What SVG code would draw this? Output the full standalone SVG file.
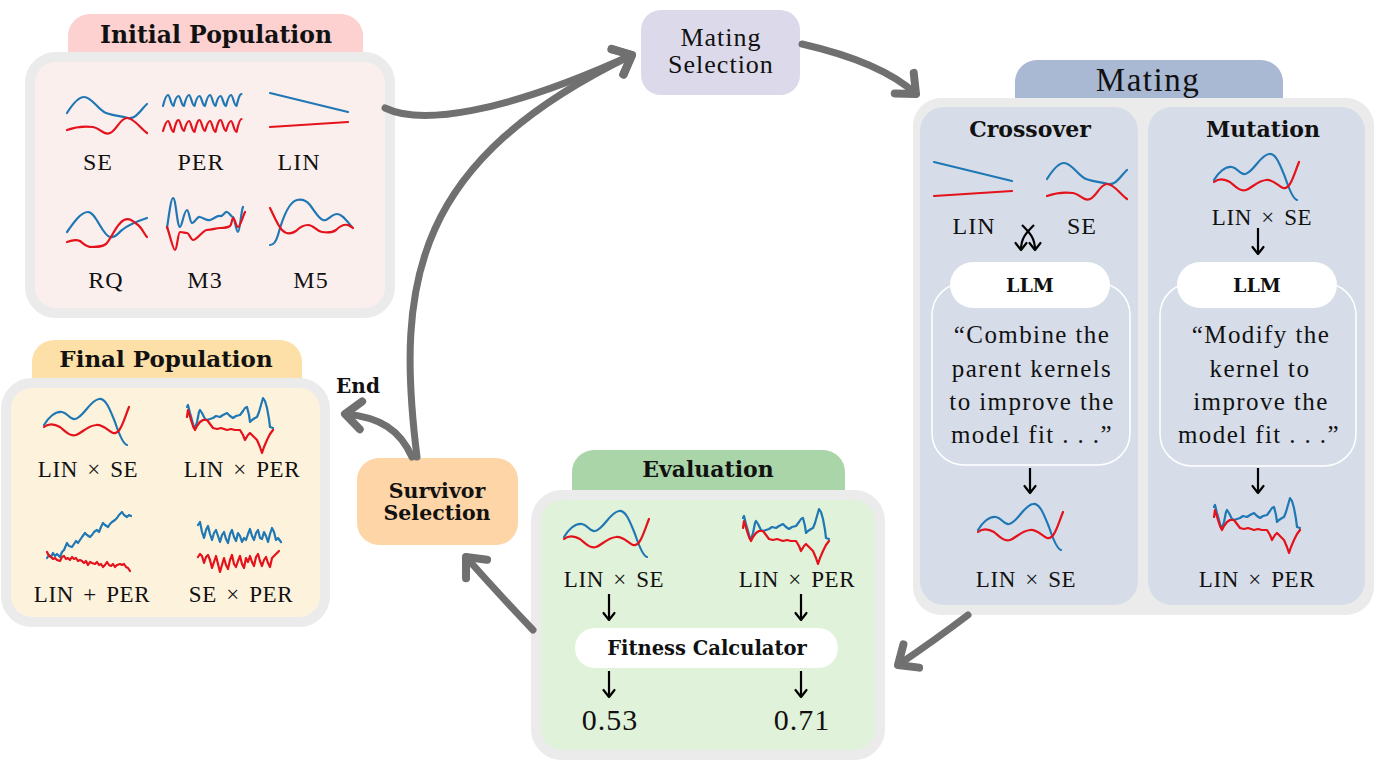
<svg xmlns="http://www.w3.org/2000/svg" xmlns:xlink="http://www.w3.org/1999/xlink" width="1376" height="766" viewBox="0 0 1376 766">
<style>
.bt{font-family:"DejaVu Serif","Liberation Serif",serif;font-weight:bold;text-anchor:middle;fill:#111}
.rt{font-family:"Liberation Serif","DejaVu Serif",serif;text-anchor:middle;fill:#111}
.lbl{font-family:"Liberation Serif","DejaVu Serif",serif;text-anchor:middle;fill:#111;font-size:23px;letter-spacing:0.6px;word-spacing:3px}
.ker{font-family:"Liberation Serif","DejaVu Serif",serif;text-anchor:middle;fill:#111;font-size:24px;letter-spacing:1px}
.bub{font-family:"Liberation Serif","DejaVu Serif",serif;text-anchor:middle;fill:#111;font-size:25px;letter-spacing:1.4px}
.b{fill:none;stroke:#1f77b4;stroke-width:2.2;stroke-linejoin:round;stroke-linecap:round}
.r{fill:none;stroke:#e4121b;stroke-width:2.2;stroke-linejoin:round;stroke-linecap:round}
.box{stroke:#ebebeb;stroke-width:10}
.garrow{fill:none;stroke:#707070;stroke-width:7;stroke-linecap:round;marker-end:url(#gh)}
.karrow{fill:none;stroke:#000;stroke-width:2.2;marker-end:url(#bh)}
</style>
<defs>
<marker id="gh" viewBox="-30 -30 40 60" markerWidth="40" markerHeight="60" refX="0" refY="0" orient="auto" markerUnits="userSpaceOnUse">
<path d="M-16,-14 L0,0 L-16,14" fill="none" stroke="#707070" stroke-width="8" stroke-linecap="round" stroke-linejoin="round"/>
</marker>
<marker id="bh" viewBox="-12 -10 16 20" markerWidth="16" markerHeight="20" refX="0" refY="0" orient="auto" markerUnits="userSpaceOnUse">
<path d="M-7,-5.5 L0,0 L-7,5.5" fill="none" stroke="#000" stroke-width="2.2" stroke-linecap="round" stroke-linejoin="round"/>
</marker>
<g id="k-se">
<path class="b" d="M1,18 C6,10 12,2 18,2 C26,2 32,15 40,18 C48,21 56,21 62,23 C70,25 76,13 81,9"/>
<path class="r" d="M1,35 C9,32 19,31 27,32 C34,33 38,41 44,38 C51,35 54,23 61,23 C68,23 74,33 81,38"/>
</g>
<g id="k-lin">
<path class="b" d="M2,1 L80,20"/>
<path class="r" d="M2,35 L80,30"/>
</g>
<g id="k-linse">
<path class="b" d="M1,27 C5,20 12,13 19,14 C25,15 27,22 32,21 C40,20 47,2 56,1 C63,0 67,12 72,24 C76,36 80,46 84,47"/>
<path class="r" d="M1,29 C6,25 12,26 17,29 C22,33 27,39 33,37 C39,35 44,28 53,27 C60,26 65,33 70,35 C77,37 80,24 86,9"/>
</g>
<g id="k-linper">
<path class="b" d="M2,10 L3,8 5,16 7,23 9,31 11,28 12,25 14,15 15,13 17,16 18,18 20,22 22,23 25,22 28,21 31,19 35,20 38,18 42,16 45,19 48,21 51,19 55,18 58,14 60,11 62,10 64,18 65,25 67,23 70,21 72,20 74,15 76,8 78,1 80,4 82,11 84,22 85,30 88,31"/>
<path class="r" d="M2,20 L3,13 4,16 6,23 8,29 10,33 12,29 15,25 18,23 22,23 25,27 28,31 32,32 36,31 42,33 46,32 50,33 55,33 58,38 60,43 63,38 65,36 68,39 72,43 75,50 77,56 79,50 82,43 85,37 88,33"/>
</g>
</defs>

<rect width="1376" height="766" fill="#ffffff"/>

<g id="initial-population">
<path d="M68,60 V36 A22,22 0 0 1 90,14 H341 A22,22 0 0 1 363,36 V60 Z" fill="#fcd1d0"/>
<rect class="box" x="30" y="57" width="360" height="256" rx="26" fill="#fbefee"/>
<text class="bt" x="216" y="43" font-size="23.5">Initial Population</text>
<use href="#k-se" x="66" y="95"/>
<g transform="translate(163,93)">
<path class="b" d="M0,13 c1.5,-6 3,-11 5,-11 c2,0 3,11 5.5,11 c1.5,-6 3,-10 5,-10 c2,0 3,10 5.5,10 c1.5,-6 3,-11 5,-11 c2,0 3,11 5.5,11 c1.5,-6 3,-10 5,-10 c2,0 3,10 5.5,10 c1.5,-6 3,-11 5,-11 c2,0 3,11 5.5,11 c1.5,-6 3,-10 5,-10 c2,0 3,10 5.5,10 c1.5,-6 3,-11 5,-11 c2,0 3,11 5.5,11 c1.5,-6 3,-12 5,-12"/>
<path class="r" d="M0,38 c1.5,-5 3,-10 5,-10 c2,0 3,11 5.5,11 c1.5,-6 3,-12 5,-12 c2,0 3,11 5.5,11 c1.5,-5 3,-10 5,-10 c2,0 3,11 5.5,11 c1.5,-6 3,-12 5,-12 c2,0 3,11 5.5,11 c1.5,-5 3,-10 5,-10 c2,0 3,11 5.5,11 c1.5,-6 3,-12 5,-12 c2,0 3,11 5.5,11 c1.5,-5 3,-10 5,-10 c2,0 3,11 5.5,11 c1.5,-6 3,-13 5,-13"/>
</g>
<use href="#k-lin" x="268" y="92"/>
<g transform="translate(66,210)">
<path class="b" d="M1,22 C8,12 15,2 22,2 C30,2 36,25 44,27 C50,28 52,23 56,20 C62,15 72,11 81,8"/>
<path class="r" d="M1,32 C6,30 10,29 14,31 C18,34 20,37 26,37 C32,37 36,37 40,34 C46,28 50,14 58,10 C64,7 68,12 72,15 C76,18 78,24 81,27"/>
</g>
<g transform="translate(165,195)">
<path class="b" d="M2,33 C4,20 6,3 8,3 C11,3 12,32 15,32 C17,32 19,15 22,15 C24,15 25,28 27,28 C30,28 32,21 35,22 C39,23 42,26 45,25 C49,24 52,20 55,21 C58,22 60,16 62,17 C65,18 66,22 68,22 C70,24 71,37 73,37 C75,37 76,16 78,12"/>
<path class="r" d="M2,32 C5,40 8,55 10,55 C12,55 13,37 15,37 C18,37 20,38 22,38 C24,38 26,45 28,45 C32,45 38,35 42,35 C47,35 51,33 55,33 C59,33 62,33 65,31 C67,29 67,23 68,23 C70,23 71,32 73,32 C75,32 78,21 80,17"/>
</g>
<g transform="translate(268,198)">
<path class="b" d="M2,47 C5,47 8,44 10,37 C13,26 20,4 29,2 C34,1 38,2 42,7 C46,12 50,20 55,22 C60,24 63,16 69,16 C74,16 78,22 84,29"/>
<path class="r" d="M2,10 C6,18 10,28 14,32 C18,36 22,37 28,33 C32,29 36,27 40,27 C46,27 48,33 54,34 C60,35 64,35 68,32 C72,28 76,26 80,27 C82,28 84,29 85,30"/>
</g>
<text class="ker" x="98" y="170">SE</text>
<text class="ker" x="201" y="170">PER</text>
<text class="ker" x="299" y="170">LIN</text>
<text class="ker" x="106" y="288">RQ</text>
<text class="ker" x="205" y="288">M3</text>
<text class="ker" x="311" y="288">M5</text>
</g>

<g id="final-population">
<path d="M32,386 V362 A22,22 0 0 1 54,340 H280 A22,22 0 0 1 302,362 V386 Z" fill="#fde0a8"/>
<rect class="box" x="6" y="383" width="319" height="239" rx="26" fill="#fdf3dd"/>
<text class="bt" x="166" y="367" font-size="23">Final Population</text>
<use href="#k-linse" x="43" y="398"/>
<use href="#k-linper" x="185" y="397"/>
<g transform="translate(45,510)">
<path class="b" d="M2,48 L4,45 6,47 8,43 10,46 12,44 15,47 17,42 19,40 22,33 24,36 27,37 29,34 31,31 33,33 35,30 37,27 40,23 42,25 45,27 47,25 49,22 52,20 54,22 56,17 58,13 60,15 63,17 65,14 67,12 70,10 72,8 74,5 77,2 79,5 82,7 84,5 86,6"/>
<path class="r" d="M2,42 L4,46 6,47 8,49 10,48 12,50 15,51 17,47 19,46 21,49 23,48 25,50 27,47 29,49 31,48 33,51 35,50 37,51 39,53 41,51 43,55 45,52 47,53 50,54 52,52 54,55 56,54 58,57 60,55 62,52 64,55 66,56 68,54 70,57 72,55 75,54 77,55 79,54 81,57 83,58 85,61"/>
</g>
<g transform="translate(195,520)">
<path class="b" d="M3,5 L5,2 7,12 9,18 11,10 13,6 15,14 17,20 19,13 21,10 23,16 25,22 27,15 29,12 31,19 33,23 35,14 37,10 39,17 41,21 43,13 45,16 47,22 49,18 51,20 53,14 55,9 57,16 59,20 61,13 63,10 65,18 67,19 69,12 71,16 73,22 75,14 77,8 79,12 81,20 83,18 86,22"/>
<path class="r" d="M3,37 L5,34 7,36 9,43 11,37 13,35 15,40 17,48 19,42 21,36 23,44 25,52 27,45 29,38 31,45 33,49 35,40 37,35 39,44 41,47 43,41 45,36 47,44 49,48 51,38 53,42 55,36 57,42 59,46 61,37 63,34 65,41 67,46 69,40 71,37 73,43 75,47 77,38 79,36 81,34 84,31"/>
</g>
<text class="lbl" x="88" y="477">LIN × SE</text>
<text class="lbl" x="242" y="477">LIN × PER</text>
<text class="lbl" x="92" y="602">LIN + PER</text>
<text class="lbl" x="241" y="602">SE × PER</text>
</g>

<g id="mating-selection">
<rect x="641" y="10" width="159" height="85" rx="20" fill="#dcd9ea"/>
<text class="rt" x="721" y="46" font-size="26" letter-spacing="1">Mating</text>
<text class="rt" x="721" y="73" font-size="26" letter-spacing="1">Selection</text>
</g>

<g id="survivor-selection">
<rect x="357" y="458" width="161" height="87" rx="22" fill="#fdd5a6"/>
<text class="bt" x="437" y="498" font-size="20.5">Survivor</text>
<text class="bt" x="437" y="520" font-size="20.5">Selection</text>
</g>

<g id="mating">
<path d="M1015,102 V82 A22,22 0 0 1 1037,60 H1261 A22,22 0 0 1 1283,82 V102 Z" fill="#a9b8d3"/>
<rect x="913" y="98" width="461" height="517" rx="28" fill="#ebebeb"/>
<text class="rt" x="1148" y="91" font-size="33" letter-spacing="1.5">Mating</text>
</g>

<g id="crossover">
<rect x="920" y="107" width="218" height="498" rx="24" fill="#d6dde9"/>
<text class="bt" x="1030" y="137" font-size="22">Crossover</text>
<use href="#k-lin" x="932" y="161"/>
<use href="#k-se" x="1046" y="161"/>
<text class="ker" x="974" y="234">LIN</text>
<text class="ker" x="1082" y="234">SE</text>
<path class="karrow" d="M1022,225 C1030,233 1035,238 1035,250"/>
<path class="karrow" d="M1034,225 C1026,233 1021,238 1021,250"/>
<rect x="932" y="283" width="198" height="182" rx="32" fill="none" stroke="#ffffff" stroke-width="1.5"/>
<rect x="950" y="262" width="160" height="46" rx="23" fill="#ffffff"/>
<text class="bt" x="1030" y="292" font-size="19">LLM</text>
<text class="bub" x="1032" y="343">“Combine the</text>
<text class="bub" x="1032" y="377">parent kernels</text>
<text class="bub" x="1032" y="410">to improve the</text>
<text class="bub" x="1032" y="443">model fit . . .”</text>
<path class="karrow" d="M1030,468 V493"/>
<use href="#k-linse" x="977" y="503"/>
<text class="lbl" x="1026" y="587">LIN × SE</text>
</g>

<g id="mutation">
<rect x="1148" y="107" width="217" height="498" rx="24" fill="#d6dde9"/>
<text class="bt" x="1263" y="137" font-size="22">Mutation</text>
<use href="#k-linse" x="1213" y="153"/>
<text class="lbl" x="1262" y="225">LIN × SE</text>
<path class="karrow" d="M1258,228 V254"/>
<rect x="1160" y="283" width="196" height="183" rx="32" fill="none" stroke="#ffffff" stroke-width="1.5"/>
<rect x="1177" y="262" width="160" height="46" rx="23" fill="#ffffff"/>
<text class="bt" x="1257" y="292" font-size="19">LLM</text>
<text class="bub" x="1261" y="343">“Modify the</text>
<text class="bub" x="1260" y="377">kernel to</text>
<text class="bub" x="1261" y="410">improve the</text>
<text class="bub" x="1259" y="443">model fit . . .”</text>
<path class="karrow" d="M1258,468 V493"/>
<use href="#k-linper" x="1212" y="497"/>
<text class="lbl" x="1257" y="587">LIN × PER</text>
</g>

<g id="evaluation">
<path d="M572,495 V472 A22,22 0 0 1 594,450 H823 A22,22 0 0 1 845,472 V495 Z" fill="#aad5a8"/>
<rect class="box" x="536" y="495" width="344" height="260" rx="26" fill="#e0f2d9"/>
<text class="bt" x="708" y="477" font-size="22">Evaluation</text>
<use href="#k-linse" x="563" y="510"/>
<use href="#k-linper" x="741" y="508"/>
<text class="lbl" x="614" y="587">LIN × SE</text>
<text class="lbl" x="797" y="587">LIN × PER</text>
<path class="karrow" d="M609,594 V620"/>
<path class="karrow" d="M801,594 V620"/>
<rect x="575" y="628" width="263" height="40" rx="20" fill="#ffffff"/>
<text class="bt" x="707" y="655" font-size="19.5">Fitness Calculator</text>
<path class="karrow" d="M609,671 V697"/>
<path class="karrow" d="M801,671 V697"/>
<text class="rt" x="610" y="730" font-size="30" letter-spacing="1">0.53</text>
<text class="rt" x="802" y="730" font-size="30" letter-spacing="1">0.71</text>
</g>

<g id="connectors">
<path class="garrow" d="M385,108 C420,125 500,115 632,55"/>
<path class="garrow" d="M417,457 C395,280 415,160 632,55"/>
<path class="garrow" d="M802,44 C850,55 890,70 916,94"/>
<path class="garrow" d="M968,615 Q935,640 898,665"/>
<path class="garrow" d="M533,630 Q495,590 466,557"/>
<path class="garrow" d="M412,457 C400,430 380,417 345,414"/>
<text class="bt" x="358" y="393" font-size="20">End</text>
</g>
</svg>
